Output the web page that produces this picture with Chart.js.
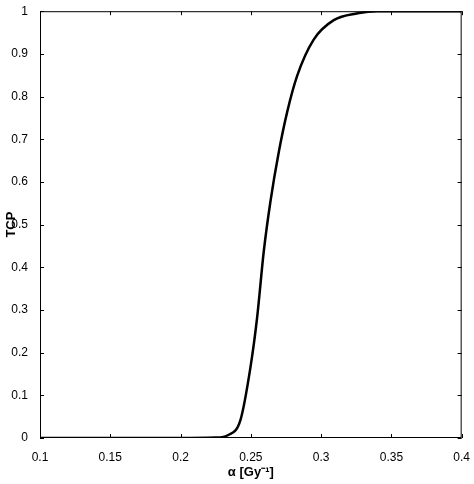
<!DOCTYPE html>
<html><head><script src="https://cdn.jsdelivr.net/npm/chart.js@4"></script>
<style>body{margin:0;background:#fff}#w{width:474px;height:484px}</style></head>
<body><div id="w"><canvas id="c"></canvas></div>
<script>
const alpha=[0.1,0.15,0.2,0.225,0.234,0.2426,0.2497,0.2544,0.2592,0.2639,0.2699,0.2758,0.283,0.2946,0.309,0.326,0.34,0.37,0.4];
const tcp=[0,0,0,0.001,0.007,0.042,0.165,0.28,0.437,0.553,0.67,0.763,0.849,0.933,0.979,0.995,1,1,1];
const xTicks=[0.1,0.15,0.2,0.25,0.3,0.35,0.4];
const yTicks=[0,0.1,0.2,0.3,0.4,0.5,0.6,0.7,0.8,0.9,1];
const font={family:'Liberation Sans, Arial, sans-serif',size:12};
const inward={id:'inward',afterDraw(ch){const c=ch.ctx,a=ch.chartArea,x=ch.scales.x,y=ch.scales.y;c.save();c.strokeStyle='#000';c.lineWidth=1;
c.strokeRect(a.left+0.5,a.top+0.5,a.right-a.left-1,a.bottom-a.top-1);c.beginPath();
xTicks.forEach(v=>{const p=Math.round(x.getPixelForValue(v))+0.5;c.moveTo(p,a.bottom);c.lineTo(p,a.bottom-4);c.moveTo(p,a.top);c.lineTo(p,a.top+4);});
yTicks.forEach(v=>{const p=Math.round(y.getPixelForValue(v))+0.5;c.moveTo(a.left,p);c.lineTo(a.left+4,p);c.moveTo(a.right,p);c.lineTo(a.right-4,p);});
c.stroke();c.restore();}};
new Chart(document.getElementById('c'),{type:'line',
data:{datasets:[{data:alpha.map((a,i)=>({x:a,y:tcp[i]})),borderColor:'#000',borderWidth:2.5,pointRadius:0,cubicInterpolationMode:'monotone'}]},
options:{responsive:true,maintainAspectRatio:false,animation:false,layout:{padding:{top:8,right:12}},
plugins:{legend:{display:false},tooltip:{enabled:false}},
scales:{
x:{type:'linear',min:0.1,max:0.4,afterBuildTicks:s=>{s.ticks=xTicks.map(v=>({value:v}))},grid:{display:false},border:{display:false},
ticks:{color:'#000',font,padding:4,maxRotation:0,callback:v=>String(+v.toFixed(2))},
title:{display:true,text:'α [Gy⁻¹]',color:'#000',font:{...font,size:13,weight:'bold'},padding:{top:2}},afterFit:s=>{s.height=46}},
y:{min:0,max:1,afterBuildTicks:s=>{s.ticks=yTicks.map(v=>({value:v}))},grid:{display:false},border:{display:false},
ticks:{color:'#000',font,padding:4,callback:v=>String(+v.toFixed(1))},
title:{display:true,text:'TCP',color:'#000',font:{...font,size:13,weight:'bold'},padding:{bottom:2}},afterFit:s=>{s.width=40}}}},
plugins:[inward]});
</script></body></html>
